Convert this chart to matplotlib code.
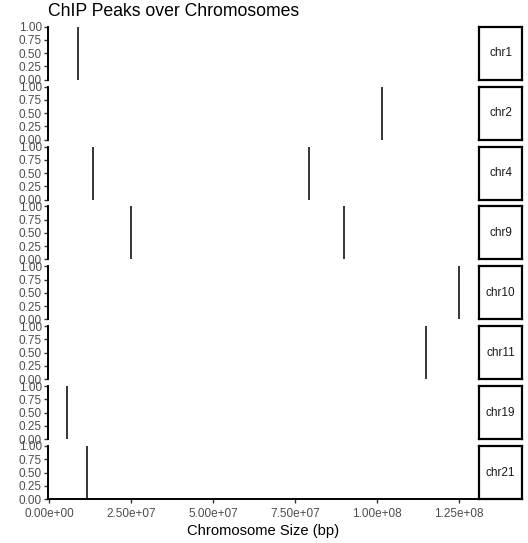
import matplotlib
matplotlib.use("Agg")
import matplotlib.pyplot as plt
import matplotlib.ticker as mticker

plt.rcParams['font.family'] = ['Liberation Sans', 'DejaVu Sans']

# peak positions (bp) per chromosome
chroms = ['chr1', 'chr2', 'chr4', 'chr9', 'chr10', 'chr11', 'chr19', 'chr21']
peaks = [
    [8.84e6],
    [1.016e8],
    [1.342e7, 7.932e7],
    [2.501e7, 9.00e7],
    [1.251e8],
    [1.1503e8],
    [5.48e6],
    [1.140e7],
]
xticks = [0, 2.5e7, 5.0e7, 7.5e7, 1.0e8, 1.25e8]
yticks = [0, 0.25, 0.5, 0.75, 1.0]

W, H = 528, 543
fig = plt.figure(figsize=(W / 100, H / 100), dpi=100)

left, right = 47.7, 479.0
strip_r = 522.0
top0, pitch, ph = 26.7, 59.9, 53.0

all_x = [p for row in peaks for p in row]
lo, hi = min(all_x), max(all_x)
pad = 0.05 * (hi - lo)
xlim = (lo - pad, hi + pad)

tick_col = '#4D4D4D'
for i, (chrom, pk) in enumerate(zip(chroms, peaks)):
    top = top0 + pitch * i
    ax = fig.add_axes([left / W, 1 - (top + ph) / H, (right - left) / W, ph / H])
    ax.vlines(pk, 0, 1, color='black', linewidth=1.1)
    ax.set_xlim(*xlim)
    ax.set_ylim(0, 1)
    ax.set_yticks(yticks)
    ax.yaxis.set_major_formatter(mticker.FormatStrFormatter('%.2f'))
    for s in ['top', 'right']:
        ax.spines[s].set_visible(False)
    ax.spines['left'].set_linewidth(1.4)
    ax.tick_params(axis='y', length=2.7, width=1.0, color='#333333',
                   labelsize=8.5, labelcolor=tick_col, pad=1.5)
    if i == len(chroms) - 1:
        ax.spines['bottom'].set_linewidth(1.4)
        ax.set_xticks(xticks)
        ax.xaxis.set_major_formatter(mticker.FuncFormatter(lambda v, p: '{:.2e}'.format(v)))
        ax.tick_params(axis='x', length=2.7, width=1.0, color='#333333',
                       labelsize=8.5, labelcolor=tick_col, pad=3.5)
        ax.set_xlabel('Chromosome Size (bp)', fontsize=10.6, color='black', labelpad=3)
    else:
        ax.spines['bottom'].set_visible(False)
        ax.set_xticks([])

    # facet strip on the right
    sx = fig.add_axes([right / W, 1 - (top + ph) / H, (strip_r - right) / W, ph / H])
    sx.set_xticks([])
    sx.set_yticks([])
    for s in sx.spines.values():
        s.set_linewidth(1.6)
        s.set_color('black')
    sx.text(0.5, 0.5, chrom, ha='center', va='center', fontsize=8.5,
            color='#1A1A1A', transform=sx.transAxes)

fig.text(left / W, 1 - 3 / H, 'ChIP Peaks over Chromosomes', ha='left', va='top',
         fontsize=12.7, color='black')

fig.savefig('out.png', dpi=100)
